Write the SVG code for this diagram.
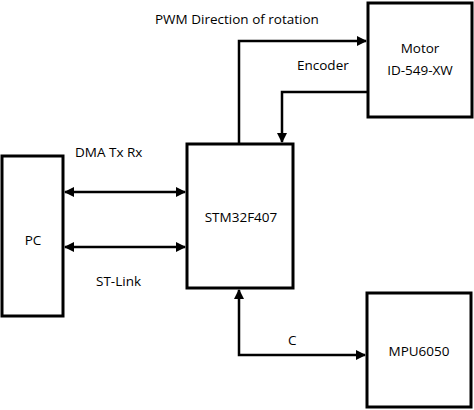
<svg xmlns="http://www.w3.org/2000/svg" width="474" height="410" viewBox="0 0 474 410">
<style>
.box{fill:#fff;stroke:#000;stroke-width:3}
.ln{fill:none;stroke:#000;stroke-width:2.5}
text{font-family:"Open Sans","Liberation Sans",sans-serif;font-size:13.5px;fill:#000}
</style>
<defs>
<marker id="ah" markerWidth="10" markerHeight="10" refX="9" refY="5" orient="auto-start-reverse" markerUnits="userSpaceOnUse">
<path d="M0,0 L10,5 L0,10 Z" fill="#000"/>
</marker>
</defs>
<rect width="474" height="410" fill="#fff"/>
<g id="connectors">
<path class="ln" d="M239,143 V41 H366" marker-end="url(#ah)"/>
<path class="ln" d="M368,92 H282 V142" marker-end="url(#ah)"/>
<path class="ln" d="M65,192 H185" marker-start="url(#ah)" marker-end="url(#ah)"/>
<path class="ln" d="M65,247 H185" marker-start="url(#ah)" marker-end="url(#ah)"/>
<path class="ln" d="M239,290 V355 H365" marker-start="url(#ah)" marker-end="url(#ah)"/>
</g>
<g id="pc">
<rect class="box" x="2" y="156" width="61" height="160"/>
<text x="33" y="245" text-anchor="middle">PC</text>
</g>
<g id="stm">
<rect class="box" x="187" y="144" width="106" height="144"/>
<text x="241" y="222" text-anchor="middle">STM32F407</text>
</g>
<g id="motor">
<rect class="box" x="368" y="3" width="104" height="114"/>
<text x="420" y="53" text-anchor="middle">Motor</text>
<text x="420" y="75" text-anchor="middle">ID-549-XW</text>
</g>
<g id="mpu">
<rect class="box" x="367" y="293" width="104" height="114"/>
<text x="419" y="356" text-anchor="middle">MPU6050</text>
</g>
<g id="labels">
<text x="155" y="24">PWM Direction of rotation</text>
<text x="297" y="70">Encoder</text>
<text x="75" y="157">DMA Tx Rx</text>
<text x="96" y="286">ST-Link</text>
<text x="288" y="345">C</text>
</g>
</svg>
